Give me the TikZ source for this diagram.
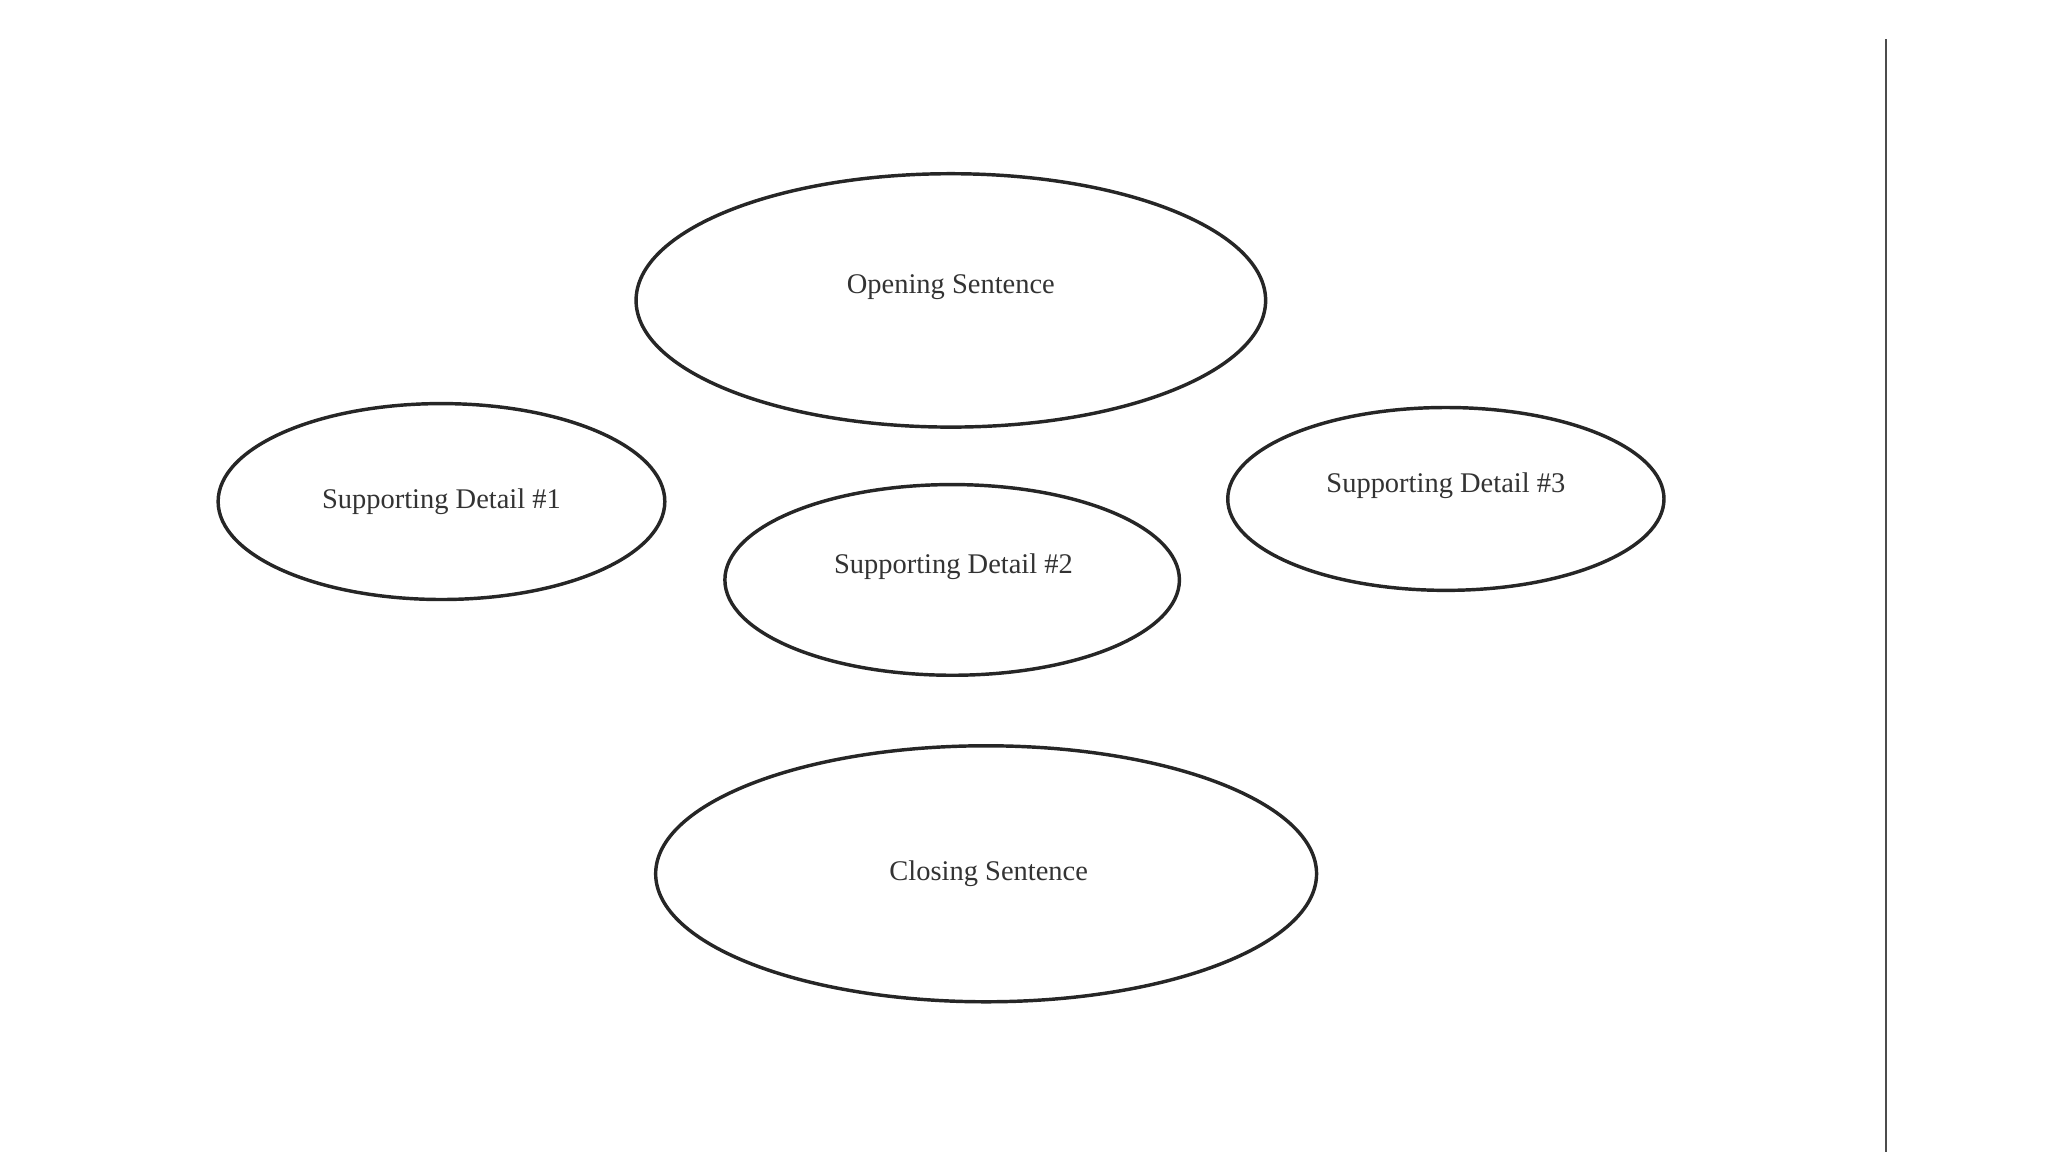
\documentclass[tikz,border=0pt]{standalone}
\usepackage{fontspec}
\setmainfont{Liberation Serif}
\begin{document}
\begin{tikzpicture}[x=0.01cm,y=-0.01cm,
  bub/.style={draw=black!85,line width=0.75pt},
  lab/.style={font=\fontsize{6.2}{7}\selectfont,text=black!80}]
\useasboundingbox (0,0) rectangle (1568,882);
\draw[bub] (728,230) ellipse [x radius=241,y radius=97];
\node[lab] (open) at (728,220) {Opening Sentence};
\draw[bub] (338,384) ellipse [x radius=171,y radius=75];
\node[lab] (sd1) at (338,384) {Supporting Detail \#1};
\draw[bub] (729,444) ellipse [x radius=174,y radius=73];
\node[lab] (sd2) at (730,434) {Supporting Detail \#2};
\draw[bub] (1107,382) ellipse [x radius=167,y radius=70];
\node[lab] (sd3) at (1107,372) {Supporting Detail \#3};
\draw[bub] (755,669) ellipse [x radius=253,y radius=98];
\node[lab] (close) at (757,669) {Closing Sentence};
\coordinate (t) at (1444,30);
\coordinate (b) at (1444,882);
\draw[black!70,line width=0.5pt] (t) -- (b);
\end{tikzpicture}
\end{document}
